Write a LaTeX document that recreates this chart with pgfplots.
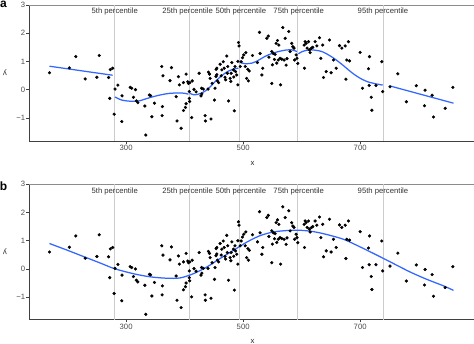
\documentclass[border=0pt]{standalone}
\usepackage{fontspec}
\setmainfont{Liberation Sans}
\usepackage{pgfplots}
\usepackage{pgfplotstable}
\pgfplotsset{compat=1.18}
\definecolor{loessblue}{HTML}{3366FF}
\definecolor{vline}{HTML}{CCCCCC}
\definecolor{txt}{HTML}{4D4D4D}
\pgfplotstableread{
x y
169 0.60
203 0.77
214 1.17
230 0.38
250 0.44
254 1.21
270 0.43
272 -0.31
273 0.71
277 0.76
279.5 -0.87
281 0.02
286 0.16
293 -0.22
292.6 -1.13
307 0.08
309.5 0.05
316 0.0
312.5 -0.27
317.5 -0.40
320 -0.46
332 -0.58
333.6 -1.61
339.8 -0.19
341.8 -0.21
344 -0.96
348.4 -0.48
361 0.82
363 0.49
362 -0.60
361.5 -0.92
375 0.32
377.5 0.78
385.5 -0.25
387 -1.11
389.4 0.46
391 0.17
394 -1.37
398 -0.74
401.4 -0.63
402.5 -0.50
398 0.25
402.5 0.55
405.3 0.28
406.5 0.22
408 -0.07
408 -0.31
408.5 -0.42
412 -0.99
409 0.25
413 0.31
416 0.01
419.6 -0.08
424.8 0.58
429 0.05
429.5 -0.15
428 -0.22
435 -0.92
435.5 -1.11
445 -1.04
440.7 0.62
442.5 0.55
443.6 0.40
440 0.02
451 -0.37
452 0.05
455 0.76
456 0.31
453.6 0.47
453.8 0.72
455 0.53
460.7 0.90
463.6 0.70
462.5 0.49
466 0.99
467.6 0.76
472 1.19
473.7 0.82
473 0.58
469 0.44
477.8 0.40
479.5 0.58
479 0.29
475 -0.40
480.7 0.96
483.5 0.70
485 -0.75
486 0.82
487 0.64
489 0.52
491 0.17
492 1.67
493 1.55
491 1.0
447 0.22
432 0.02
458 0.25
470 0.35
484 0.45
495 0.82
496.6 0.99
498.8 1.13
501 1.23
504.6 1.31
503.5 0.82
506 0.40
509 0.31
508 0.72
510.5 0.66
516 1.21
524.5 0.96
528 2.03
529 1.28
532 0.52
533.5 0.76
540.5 1.82
543 1.90
544 1.15
549 0.22
549 1.35
550 0.88
551.7 1.28
553.5 1.07
554.7 1.25
556.4 1.64
557.5 0.94
558.7 1.74
561 1.58
563 1.11
564 0.17
567.8 2.20
571.8 1.82
573.5 0.87
578 2.06
580.3 1.35
583 1.64
585 1.52
587 1.47
588 1.05
590.6 1.23
593.4 0.93
592 1.11
560 1.05
566 1.08
570 1.05
575 1.10
604.8 0.76
604.3 1.58
606 1.70
607.7 1.64
609.4 1.47
611.7 1.70
613.4 1.41
614.5 1.31
616.8 1.47
619 1.50
623 1.70
626 1.55
630.5 1.84
632.8 1.11
636 1.58
637.4 0.43
642 0.64
647.6 1.76
650.4 0.60
654.4 1.05
659 0.76
664.7 1.56
668.7 1.47
674.4 1.55
675.6 0.37
677.2 1.05
680 1.70
681.8 1.02
700 1.32
704 0.05
714.2 0.74
716 1.17
715.4 0.15
719 -0.27
720 -0.73
727 0.15
737 0.99
738.5 -0.07
751 0.10
764.4 0.56
779 -0.43
796 0.14
811 -0.02
810 -0.57
823 -0.20
825.4 -0.97
845.3 -0.66
858.4 0.08
}\pts
\pgfplotsset{
  panel/.style={
    scale only axis, width=447pt, height=136pt,
    xmin=134, xmax=898, ymax=3,
    axis x line*=bottom, axis y line*=left,
    axis line style={black!75, line width=0.5pt},
    xtick={300,500,700}, xticklabels={300,500,700},
    ytick={-1,0,1,2,3}, yticklabels={−1,0,1,2,3},
    tick align=outside, major tick length=2.75pt,
    tick style={black!75, line width=0.5pt},
    tick label style={font=\fontsize{7.7pt}{9pt}\selectfont, text=txt, inner sep=1pt},
    /pgf/number format/assume math mode=true,
    xlabel={x}, ylabel={y},
    label style={font=\fontsize{7.7pt}{9pt}\selectfont, text=black!85},
    xlabel style={at={(axis description cs:0.5,-0.162)}, anchor=center},
    ylabel style={at={(axis description cs:-0.0537,0.5)}, anchor=center, rotate=0},
    clip=false,
  },
  vl/.style={vline, line width=0.8pt, forget plot},
  sm/.style={draw=loessblue, line width=1.25pt, no markers},
  pt/.style={only marks, mark=*, mark size=1.4pt, black, mark options={draw=black, fill=black}},
}
\begin{document}
\begin{tikzpicture}[x=1pt,y=1pt]
\useasboundingbox (0,0) rectangle (474,344);
% panel a
\begin{axis}[panel, at={(29pt,203pt)}, anchor=south west, ymin=-1.82, ylabel style={rotate=90}]
\draw[black!45, line width=0.5pt] (rel axis cs:0,1) -- (rel axis cs:1.05,1);
\addplot[vl] coordinates {(280.5,-1.82) (280.5,3)};
\addplot[vl] coordinates {(408,-1.82) (408,3)};
\addplot[vl] coordinates {(493.5,-1.82) (493.5,3)};
\addplot[vl] coordinates {(593.5,-1.82) (593.5,3)};
\addplot[vl] coordinates {(739,-1.82) (739,3)};
\begin{scope}[every node/.style={font=\fontsize{7.7pt}{9pt}\selectfont, text=black!80}]
\node at (axis cs:280.5,2.76) {5th percentile};
\node at (axis cs:405,2.76) {25th percentile};
\node at (axis cs:496,2.76) {50th percentile};
\node at (axis cs:595,2.76) {75th percentile};
\node at (axis cs:739,2.76) {95th percentile};
\end{scope}
\addplot[pt] table[x=x,y=y] {\pts};
\addplot[sm] coordinates {(169,0.83) (277,0.51)};
\addplot[sm, smooth] coordinates {(281,-0.26) (292.6,-0.37) (306.8,-0.41) (318,-0.41) (324,-0.39) (341,-0.28) (358,-0.19) (375,-0.13) (392,-0.12) (400,-0.13) (406.5,-0.16)};
\addplot[sm, smooth] coordinates {(409,-0.13) (415,-0.18) (422,-0.17) (430,-0.11) (436,-0.04) (443.6,0.10) (452,0.28) (463.6,0.50) (475,0.66) (486,0.74) (492,0.76)};
\addplot[sm, smooth] coordinates {(494,0.97) (503,0.92) (515,0.94) (526,1.04) (537.6,1.18) (549,1.28) (560.5,1.35) (572,1.40) (583,1.41) (592,1.35)};
\addplot[sm, smooth] coordinates {(594.5,1.27) (600,1.34) (608,1.39) (617,1.41) (628.7,1.38) (637,1.33) (646,1.23) (654.5,1.12) (663,0.99) (671.5,0.85) (680,0.70) (688.5,0.56) (697,0.44) (705,0.35) (714,0.27) (726,0.21) (738.5,0.16)};
\addplot[sm] coordinates {(751,0.13) (859.5,-0.48)};
\end{axis}
% panel b
\begin{axis}[panel, at={(29pt,24.3pt)}, anchor=south west, ymin=-1.80, height=135.4pt, ylabel style={rotate=90}]
\draw[black!45, line width=0.5pt] (rel axis cs:0,1) -- (rel axis cs:1.05,1);
\addplot[vl] coordinates {(280.5,-1.80) (280.5,3)};
\addplot[vl] coordinates {(408,-1.80) (408,3)};
\addplot[vl] coordinates {(493.5,-1.80) (493.5,3)};
\addplot[vl] coordinates {(593.5,-1.80) (593.5,3)};
\addplot[vl] coordinates {(739,-1.80) (739,3)};
\begin{scope}[every node/.style={font=\fontsize{7.7pt}{9pt}\selectfont, text=black!80}]
\node at (axis cs:280.5,2.76) {5th percentile};
\node at (axis cs:405,2.76) {25th percentile};
\node at (axis cs:496,2.76) {50th percentile};
\node at (axis cs:595,2.76) {75th percentile};
\node at (axis cs:739,2.76) {95th percentile};
\end{scope}
\addplot[pt] table[x=x,y=y] {\pts};
\addplot[sm, smooth] coordinates {(169,0.90) (198.6,0.67) (227,0.44) (255.6,0.21) (280,0.01) (312.5,-0.17) (341,-0.28) (369.5,-0.33) (392,-0.32) (415,-0.17) (438,0.07) (460.7,0.37) (483.4,0.66) (506.3,0.95) (529,1.18) (551.8,1.31) (574.6,1.36) (597,1.37) (614,1.34) (626,1.30) (643,1.22) (671.5,1.05) (700,0.78) (728.5,0.49) (757,0.19) (785.5,-0.11) (814,-0.37) (842.4,-0.60) (859.5,-0.76)};
\end{axis}
\node[font=\bfseries\fontsize{12pt}{14pt}\selectfont, anchor=base] at (3.5,336) {a};
\node[font=\bfseries\fontsize{12pt}{14pt}\selectfont, anchor=base] at (3.5,153.7) {b};
\end{tikzpicture}
\end{document}
